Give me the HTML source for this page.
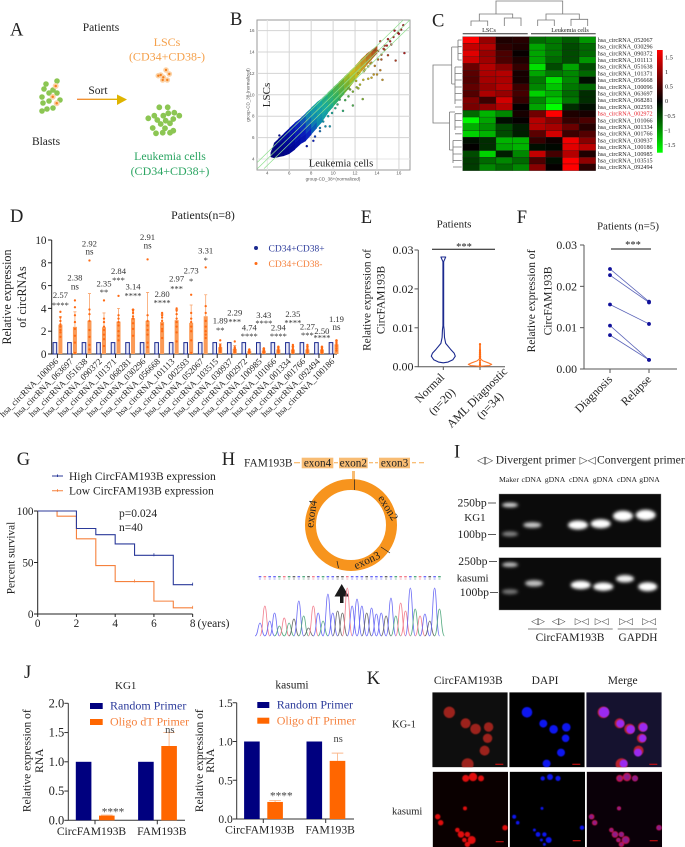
<!DOCTYPE html>
<html lang="en">
<head>
<meta charset="utf-8">
<title>CircFAM193B figure</title>
<style>
html,body{margin:0;padding:0;background:#fff;width:685px;height:847px;overflow:hidden}
svg{display:block}
text{font-family:"Liberation Serif","DejaVu Serif",serif;fill:#222}
</style>
</head>
<body>
<svg id="figure" xmlns="http://www.w3.org/2000/svg" width="685" height="847" viewBox="0 0 685 847">
<defs>
<linearGradient id="heatScale" x1="0" y1="0" x2="0" y2="1"><stop offset="0" stop-color="#ff0000"/><stop offset=".5" stop-color="#000"/><stop offset="1" stop-color="#00ff00"/></linearGradient>
<linearGradient id="sortArrow" gradientUnits="userSpaceOnUse" x1="77" y1="0" x2="118" y2="0"><stop offset="0" stop-color="#f58a3c"/><stop offset="1" stop-color="#e0b400"/></linearGradient>
<filter id="b1" x="-50%" y="-100%" width="200%" height="300%"><feGaussianBlur stdDeviation="1.6"/></filter>
<filter id="b2" x="-30%" y="-30%" width="160%" height="160%"><feGaussianBlur stdDeviation=".5"/></filter>
<clipPath id="clipK1"><rect x="0" y="0" width="75.4" height="75"/></clipPath>
<clipPath id="clipK2"><rect x="0" y="0" width="75.4" height="75.3"/></clipPath>
<g id="kg1Red"><circle cx="17" cy="20" r="5.7"/><circle cx="33.3" cy="31" r="5"/><circle cx="43.3" cy="36.7" r="5.3"/><circle cx="56.3" cy="34.7" r="4.7"/><circle cx="55.3" cy="46" r="4.7"/><circle cx="52.3" cy="58.3" r="5"/><circle cx="35.3" cy="72" r="6"/></g>
<g id="kg1Blue"><circle cx="17.7" cy="20" r="5.3"/><circle cx="34" cy="31.3" r="4"/><circle cx="44.3" cy="37" r="4.3"/><circle cx="57" cy="35" r="4.3"/><circle cx="56.3" cy="46" r="3.8"/><circle cx="51.7" cy="60.3" r="4"/><circle cx="37.3" cy="71.3" r="4"/></g>
<g id="kasRed"><circle cx="33" cy="6.7" r="3.5"/><circle cx="40.3" cy="5.3" r="4.2"/><circle cx="48.3" cy="6.7" r="3"/><circle cx="32.3" cy="36.7" r="2"/><circle cx="5" cy="45" r="2.7"/><circle cx="8" cy="51" r="2.7"/><circle cx="72.3" cy="56" r="2.7"/><circle cx="24.7" cy="58.3" r="2.3"/><circle cx="28.3" cy="62.7" r="3.3"/><circle cx="34.7" cy="62.7" r="2.7"/><circle cx="31.7" cy="68.3" r="2.3"/><circle cx="39" cy="68.3" r="4"/><circle cx="34.7" cy="72.7" r="2.7"/></g>
<g id="kasBlue"><circle cx="33" cy="6.7" r="2.2"/><circle cx="40.3" cy="5.3" r="3"/><circle cx="48.3" cy="6.7" r="2.6"/><circle cx="32.3" cy="36.7" r="1.5"/><circle cx="4.5" cy="45" r="2"/><circle cx="8" cy="51" r="1.8"/><circle cx="72.3" cy="56" r="2.2"/><circle cx="24.7" cy="58.3" r="1.5"/><circle cx="28.3" cy="62.7" r="2.4"/><circle cx="34.7" cy="62.7" r="2.2"/><circle cx="31.7" cy="68.3" r="1.5"/><circle cx="39" cy="68.3" r="3"/><circle cx="34.7" cy="72.7" r="1.5"/></g>
</defs>

<!-- Panel A -->
<g>
<text x="10" y="35.7" font-size="18.5">A</text>
<text x="101" y="31" font-size="11.5" text-anchor="middle">Patients</text>
<text x="167" y="46" font-size="12" text-anchor="middle" style="fill:#f5a04a">LSCs</text>
<text x="167" y="60.5" font-size="12" text-anchor="middle" style="fill:#f5a04a">(CD34+CD38-)</text>
<path stroke="#8cc653" stroke-width="5.6" stroke-linecap="round" fill="none" d="M57 81h0M46 84h0M44 89h0M53 90h0M49 93h0M57 93h0M42 97h0M49 101h0M43 103h0M60 100h0M53 108h0M47 109h0M42 111h0"/>
<path stroke="#fbd3a8" stroke-width="6" stroke-linecap="round" fill="none" d="M55.7 86h0M52.7 96.7h0M56.7 103.3h0"/>
<path stroke="#f58220" stroke-width="2.5" stroke-linecap="round" fill="none" d="M55.7 86h0M52.7 96.7h0M56.7 103.3h0"/>
<path stroke="#fbd3a8" stroke-width="5.6" stroke-linecap="round" fill="none" d="M166 70h0M160.7 75h0M169.3 74h0M163.3 77.3h0M158.3 75.7h0M167.3 80h0M162.7 80h0"/>
<path stroke="#f58220" stroke-width="2.4" stroke-linecap="round" fill="none" d="M166 70h0M160.7 75h0M169.3 74h0M163.3 77.3h0M158.3 75.7h0M167.3 80h0M162.7 80h0"/>
<path stroke="#8cc653" stroke-width="5.8" stroke-linecap="round" fill="none" d="M159.3 107.3h0M167.7 107.3h0M174.3 112.7h0M179.3 115.7h0M154.3 115.7h0M148.3 118.3h0M157.3 120h0M163.3 115.7h0M168.3 113.3h0M173.3 119h0M165.7 120.7h0M160.7 124h0M170 123.3h0M152.7 128h0M165 128.3h0M173.3 130.7h0M156 133.3h0M162.7 132.7h0M170 132.7h0"/>
<text x="98" y="94" font-size="11.5" text-anchor="middle">Sort</text>
<path d="M77 99.3H118" stroke="url(#sortArrow)" stroke-width="1.3" fill="none"/>
<path d="M117 94.5L127 99.5L117 105Z" fill="#dfb400"/>
<text x="46" y="145" font-size="11.5" text-anchor="middle">Blasts</text>
<text x="170" y="160" font-size="11.8" text-anchor="middle" style="fill:#2ba562">Leukemia cells</text>
<text x="170" y="175" font-size="12" text-anchor="middle" style="fill:#2ba562">(CD34+CD38+)</text>
</g>

<!-- Panel B -->
<g id="panelB">
<text x="230" y="25" font-size="18.5">B</text>
<rect x="257" y="20" width="153" height="150" fill="#fff" stroke="#999" stroke-width="1"/>
<text transform="translate(249.5,95) rotate(-90)" font-size="4.5" text-anchor="middle" style="font-family:'Liberation Sans',sans-serif;fill:#555">group-CD_38-(normalized)</text>
<text x="333" y="180.5" font-size="4.5" text-anchor="middle" style="font-family:'Liberation Sans',sans-serif;fill:#555">group-CD_38+(normalized)</text>
</g>

<!-- Panel C -->
<g id="panelC">
<text x="432" y="26.7" font-size="18.5">C</text>
<path fill="none" stroke="#777" stroke-width=".8" d="M496 14V1H562.7V14M479.3 21V14H512.7V18M471 26V21H487.7V26M504.3 26V18H521V26M546 20V14H579.3V19.3M537.7 26V20H554.3V26M571 26V19.3H587.7V26"/>
<path fill="none" stroke="#777" stroke-width=".8" d="M451.7 65H433V123H449.5M451.7 47V84M451.7 47H458M458 40V60M458 40H461.7M458 46.7H461.7M458 53.4H461.7M458 60H461.7M451.7 84H455M455 67V104M455 67H461.7M455 73.4H461.7M455 80H461.7M455 87H461.7M455 93.6H461.7M455 100H461.7M455 107H461.7M449.5 112V150M449.5 112H455M455 113.7V130M455 113.7H461.7M455 120.4H461.7M455 127H461.7M455 133.8H461.7M449.5 150H453M453 144V163M453 140.5V147H456M453 140.5H461.7M453 147H461.7M453 154H461.7M453 160.6H461.7M453 167H461.7"/>
<path d="M462.7 33.7H527.7" stroke="#333" stroke-width="1"/>
<path d="M531 33.7H595.7" stroke="#333" stroke-width="1"/>
<text x="489" y="32" font-size="6.2" text-anchor="middle">LSCs</text>
<text x="570" y="32" font-size="6.2" text-anchor="middle">Leukemia cells</text>
<rect x="657" y="50" width="5.7" height="102.7" fill="url(#heatScale)"/>
</g>

<!-- Panel D -->
<g id="panelD">
<text x="10" y="222" font-size="18.5">D</text>
<text x="203" y="219" font-size="11.8" text-anchor="middle">Patients(n=8)</text>
<text transform="translate(11,297) rotate(-90)" font-size="12.1" text-anchor="middle">Relative expression</text>
<text transform="translate(26,297) rotate(-90)" font-size="12.1" text-anchor="middle">of circRNAs</text>
<circle cx="256" cy="248" r="2" fill="#1b2a8f"/>
<text x="268.5" y="251.5" font-size="9.5" style="fill:#2b3a9a">CD34+CD38+</text>
<circle cx="256" cy="263.5" r="1.5" fill="#ff6a13"/>
<text x="268.5" y="267" font-size="9.5" style="fill:#f5813d">CD34+CD38-</text>
</g>

<!-- Panel E -->
<g id="panelE">
<text x="360.7" y="223" font-size="18.5">E</text>
<text x="454" y="227.5" font-size="11" text-anchor="middle">Patients</text>
<text transform="translate(370.5,300) rotate(-90)" font-size="11.4" text-anchor="middle">Relative expression of</text>
<text transform="translate(384.5,300) rotate(-90)" font-size="11.4" text-anchor="middle">CircFAM193B</text>
<path d="M432 249.3H495" stroke="#111" stroke-width="1"/>
<text x="464" y="250" font-size="10.5" text-anchor="middle">***</text>
<text transform="translate(445,378) rotate(-45)" font-size="11.8" text-anchor="end">Normal</text>
<text transform="translate(456,393) rotate(-45)" font-size="11.8" text-anchor="end">(n=20)</text>
<text transform="translate(508,372) rotate(-45)" font-size="11.8" text-anchor="end">AML Diagnostic</text>
<text transform="translate(504,397) rotate(-45)" font-size="11.8" text-anchor="end">(n=34)</text>
</g>

<!-- Panel F -->
<g id="panelF">
<text x="516.7" y="223" font-size="18.5">F</text>
<text x="628" y="229.5" font-size="11" text-anchor="middle">Patients (n=5)</text>
<text transform="translate(535,301) rotate(-90)" font-size="11.5" text-anchor="middle">Relative expression of</text>
<text transform="translate(551.5,301) rotate(-90)" font-size="11.5" text-anchor="middle">CircFAM193B</text>
<path d="M611 249H651" stroke="#111" stroke-width="1"/>
<text x="633" y="248" font-size="10.5" text-anchor="middle">***</text>
</g>

<!-- Panel G -->
<g id="panelG">
<text x="16.7" y="465" font-size="18.5">G</text>
<path d="M52 476H63M57.5 474.5V477" stroke="#2b3a9a" stroke-width="1" fill="none"/>
<text x="69" y="479.8" font-size="11.5">High CircFAM193B expression</text>
<path d="M52 490.7H63M57.5 489.2V491.7" stroke="#f5813d" stroke-width="1" fill="none"/>
<text x="69" y="494.5" font-size="11.5">Low CircFAM193B expression</text>
<text x="119" y="517" font-size="11.5">p=0.024</text>
<text x="119" y="531" font-size="11.5">n=40</text>
<text transform="translate(14.5,558) rotate(-90)" font-size="11.2" text-anchor="middle">Percent survival</text>
<text x="197.5" y="626.8" font-size="11.5">(years)</text>
</g>

<!-- Panel H -->
<g id="panelH">
<text x="221.7" y="465" font-size="18.5">H</text>
<text x="244" y="466.7" font-size="11.4">FAM193B</text>
<path d="M294 462.8H300M334 462.8H338M369 462.8H373M375 462.8H378M412 462.8H416M419 462.8H424" stroke="#f7a94a" stroke-width="1" fill="none"/>
<rect x="301.7" y="457.7" width="31.6" height="10.6" fill="#f8bc73"/>
<rect x="339" y="457.7" width="28.7" height="10.6" fill="#f8bc73"/>
<rect x="379" y="457.7" width="31" height="10.6" fill="#f8bc73"/>
<text x="317.5" y="466.5" font-size="11.2" text-anchor="middle">exon4</text>
<text x="353.3" y="466.5" font-size="11.2" text-anchor="middle">exon2</text>
<text x="394.5" y="466.5" font-size="11.2" text-anchor="middle">exon3</text>
<path d="M353.5 471V481" stroke="#f8bc73" stroke-width="3"/>
<circle cx="351" cy="525" r="40.5" fill="none" stroke="#f7941d" stroke-width="11"/>
<path d="M354.5 479.5V490M381 547L390 553M337 561L338.5 568" stroke="#222" stroke-width=".7" fill="none"/>
<text transform="translate(311.5,514) rotate(-82)" font-size="11.3" text-anchor="middle" dy="3.5">exon4</text>
<text transform="translate(388,508) rotate(58)" font-size="11.3" text-anchor="middle" dy="3.5">exon2</text>
<text transform="translate(367,560.5) rotate(-25)" font-size="11.3" text-anchor="middle" dy="3.5">exon3</text>
<path d="M341.7 584L349 596.5H343.5V603H340V596.5H334.5Z" fill="#1a1a1a"/>
</g>

<!-- Panel I -->
<g>
<text x="454" y="457.7" font-size="18.5">I</text>
<text x="477" y="463.5" font-size="10.5" style="font-family:'DejaVu Sans',sans-serif;fill:#444">◁▷</text>
<text x="495.7" y="463.7" font-size="11.6">Divergent primer</text>
<text x="579.5" y="463.5" font-size="10.5" style="font-family:'DejaVu Sans',sans-serif;fill:#444">▷◁</text>
<text x="597" y="463.7" font-size="11.6">Convergent primer</text>
<text x="509" y="482" font-size="7.7" text-anchor="middle">Maker</text>
<text x="531.5" y="482" font-size="7.7" text-anchor="middle">cDNA</text>
<text x="555" y="482" font-size="7.7" text-anchor="middle">gDNA</text>
<text x="579" y="482" font-size="7.7" text-anchor="middle">cDNA</text>
<text x="603" y="482" font-size="7.7" text-anchor="middle">gDNA</text>
<text x="627" y="482" font-size="7.7" text-anchor="middle">cDNA</text>
<text x="649.5" y="482" font-size="7.7" text-anchor="middle">gDNA</text>
<rect x="499" y="494" width="162" height="53.3" fill="#0b0b0b" stroke="#888" stroke-width=".4"/>
<rect x="499" y="557.7" width="162" height="52.3" fill="#0b0b0b" stroke="#888" stroke-width=".4"/>
<g fill="#fff" filter="url(#b1)">
<ellipse cx="510" cy="505" rx="8" ry="2.3" opacity=".85"/>
<ellipse cx="510" cy="534" rx="8" ry="2.5" opacity=".5"/>
<ellipse cx="532.3" cy="525" rx="9" ry="2.8" opacity=".8"/>
<ellipse cx="578" cy="525" rx="10" ry="4.5"/>
<ellipse cx="600.7" cy="523.7" rx="10" ry="4.5"/>
<ellipse cx="623" cy="516" rx="10" ry="5.2"/>
<ellipse cx="645.7" cy="515" rx="10" ry="5.2"/>
</g>
<g fill="#fff" filter="url(#b1)">
<ellipse cx="510" cy="564.7" rx="8" ry="2.3" opacity=".75"/>
<ellipse cx="510" cy="591.7" rx="8" ry="2.5" opacity=".45"/>
<ellipse cx="534" cy="583.3" rx="9" ry="3.2" opacity=".75"/>
<ellipse cx="580.7" cy="585" rx="10" ry="4.2"/>
<ellipse cx="603.3" cy="586.7" rx="10" ry="4.2"/>
<ellipse cx="625" cy="578.7" rx="9" ry="3.7" opacity=".95"/>
<ellipse cx="647.7" cy="586.7" rx="9.5" ry="4.5"/>
</g>
<text x="486.7" y="506.7" font-size="11.7" text-anchor="end">250bp</text>
<path d="M488 503H496" stroke="#333" stroke-width=".8"/>
<text x="475" y="521" font-size="11" text-anchor="middle">KG1</text>
<text x="486.7" y="538" font-size="11.7" text-anchor="end">100bp</text>
<path d="M488 534.5H496" stroke="#333" stroke-width=".8"/>
<text x="487.5" y="565" font-size="11.7" text-anchor="end">250bp</text>
<path d="M489 561.5H497" stroke="#333" stroke-width=".8"/>
<text x="472.7" y="581.5" font-size="11" text-anchor="middle">kasumi</text>
<text x="489" y="596" font-size="11.7" text-anchor="end">100bp</text>
<path d="M490 592.5H498" stroke="#333" stroke-width=".8"/>
<text x="538" y="624" font-size="9" text-anchor="middle" style="font-family:'DejaVu Sans',sans-serif;fill:#444">◁▷</text>
<text x="558.7" y="624" font-size="9" text-anchor="middle" style="font-family:'DejaVu Sans',sans-serif;fill:#444">◁▷</text>
<text x="581.7" y="624" font-size="9" text-anchor="middle" style="font-family:'DejaVu Sans',sans-serif;fill:#444">▷◁</text>
<text x="601.7" y="624" font-size="9" text-anchor="middle" style="font-family:'DejaVu Sans',sans-serif;fill:#444">▷◁</text>
<text x="626" y="624" font-size="9" text-anchor="middle" style="font-family:'DejaVu Sans',sans-serif;fill:#444">▷◁</text>
<text x="649" y="624" font-size="9" text-anchor="middle" style="font-family:'DejaVu Sans',sans-serif;fill:#444">▷◁</text>
<path d="M528 629H612.7" stroke="#555" stroke-width=".8"/>
<path d="M617.7 629H657" stroke="#555" stroke-width=".8"/>
<text x="570" y="641" font-size="11.5" text-anchor="middle">CircFAM193B</text>
<text x="638" y="641" font-size="11.3" text-anchor="middle">GAPDH</text>
</g>

<!-- Panel J -->
<g id="panelJ">
<text x="24" y="678" font-size="18.5">J</text>
<text x="125.7" y="689" font-size="11" text-anchor="middle">KG1</text>
<text transform="translate(30.5,760.7) rotate(-90)" font-size="11.5" text-anchor="middle">Relative expression of</text>
<text transform="translate(43,760.7) rotate(-90)" font-size="11.5" text-anchor="middle">RNA</text>
<rect x="90" y="703" width="12.7" height="6" fill="#00007f"/>
<text x="110" y="709.7" font-size="12" style="fill:#2b3a9a">Random Primer</text>
<rect x="90" y="719" width="12.7" height="6" fill="#ff6600"/>
<text x="110" y="725.7" font-size="12" style="fill:#f5813d">Oligo dT Primer</text>
<text x="292" y="688.5" font-size="11.5" text-anchor="middle">kasumi</text>
<text transform="translate(203,760.7) rotate(-90)" font-size="11.5" text-anchor="middle">Relative expression of</text>
<text transform="translate(214,760.7) rotate(-90)" font-size="11.5" text-anchor="middle">RNA</text>
<rect x="257.3" y="702" width="12" height="6" fill="#00007f"/>
<text x="276.7" y="708.7" font-size="12" style="fill:#2b3a9a">Random Primer</text>
<rect x="257.3" y="717.7" width="12" height="6" fill="#ff6600"/>
<text x="276.7" y="724.5" font-size="12" style="fill:#f5813d">Oligo dT Primer</text>
</g>

<!-- Panel K -->
<g>
<text x="366.7" y="684" font-size="18.5">K</text>
<text x="468.3" y="684" font-size="11.5" text-anchor="middle">CircFAM193B</text>
<text x="545" y="684" font-size="11.5" text-anchor="middle">DAPI</text>
<text x="622.7" y="684" font-size="11.5" text-anchor="middle">Merge</text>
<text x="392" y="727.7" font-size="10.5">KG-1</text>
<text x="392" y="814.7" font-size="10.5">kasumi</text>

<g transform="translate(432.3,692.3)" clip-path="url(#clipK1)">
<rect width="75.4" height="75" fill="#0e0e0e"/>
<use href="#kg1Red" fill="#9c221e" filter="url(#b2)"/>
<path d="M63 72H71" stroke="#e01010" stroke-width="1"/>
</g>
<g transform="translate(509.3,692.3)" clip-path="url(#clipK1)">
<rect width="75.4" height="75" fill="#000"/>
<use href="#kg1Blue" fill="#0a14f0" filter="url(#b2)"/>
<path d="M63 72H71" stroke="#e01010" stroke-width="1"/>
</g>
<g transform="translate(586.3,692.3)" clip-path="url(#clipK1)">
<rect width="75.4" height="75" fill="#15122f"/>
<use href="#kg1Red" fill="#b8242c" filter="url(#b2)"/>
<use href="#kg1Blue" fill="#9a2cf0" filter="url(#b2)"/>
<path d="M63 72H71" stroke="#e01010" stroke-width="1"/>
</g>
<g transform="translate(432.7,771.7)" clip-path="url(#clipK2)">
<rect width="75.4" height="75.3" fill="#0a0000"/>
<use href="#kasRed" fill="#e01010" filter="url(#b2)"/>
<path d="M63 70H71" stroke="#e01010" stroke-width="1"/>
</g>
<g transform="translate(509.7,771.7)" clip-path="url(#clipK2)">
<rect width="75.4" height="75.3" fill="#000"/>
<use href="#kasBlue" fill="#0a14f0" filter="url(#b2)"/>
<path d="M63 69H71" stroke="#e01010" stroke-width="1"/>
</g>
<g transform="translate(586.7,771.7)" clip-path="url(#clipK2)">
<rect width="75.4" height="75.3" fill="#0a0008"/>
<use href="#kasRed" fill="#c81848" filter="url(#b2)"/>
<use href="#kasBlue" fill="#8c1c8c" filter="url(#b2)"/>
<path d="M63 69H71" stroke="#e01010" stroke-width="1"/>
</g>
</g>
</svg>

<script>
/* ---------- Panel B data ---------- */
const scatterTicks=[4,6,8,10,12,14,16];
const bandX=[4.3,4.6,5,5.5,6,6.5,7,7.5,8,8.5,9,9.5,10,10.5,11,11.5,12,12.5,13,13.5,14];
const bandUpper=[4.6,5.5,5.9,6.4,6.9,7.4,7.8,8.3,8.8,9.3,9.7,10.2,10.7,11.2,11.7,12.2,12.7,13.3,13.8,14.2,14.6];
const bandLower=[4.2,4.1,4.2,4.3,4.5,4.9,5.4,5.7,6.3,6.9,7.5,8.3,8.9,9.5,10.1,10.7,11.4,12.1,12.7,13.3,13.9];
const outlierX=[16.5,15.7,14.5,12.7,11.8,10.9,9.7,9.3,8.2,7.6,5.1,15,14.4,13.8,14.3,13.7,13.2,12.3,11.8,11.1,15.3,15.9,15.6,16.4,15,14.3,13.8,14.7,15.2,15.5,16,16.2,14.9,14.1,14.6,13.4,12.8,12.1,11.4,10.4,9.9,8.8,12.3,12.9,13.5,13.2,14.1,14.4,14.7,13.5,14,12.75,12.45,12.15,11.55,11.4,10.6,10.2,9.55,9.1,8.8,8.35];
const outlierY=[13.9,13.2,11.4,9.6,9,8.5,7.05,7.05,5.7,5.2,6.2,13.7,13.3,12.7,12.3,11.9,11.5,10.6,10.3,9.5,14.7,15.8,16,16.5,15.2,15,14.2,14.6,15,15.4,15.7,16.1,14.6,14.1,14.3,12.9,12.2,11.3,10.6,9.1,8.3,6.6,12,12.35,13,12.65,13.3,13.75,14.2,11.6,11.9,11.4,10.95,10.7,10.5,9.85,9.55,8.75,8,7.5,6.9,6.1];

/* ---------- Panel C data ---------- */
const heatRowLabels=['hsa_circRNA_052067','hsa_circRNA_030296','hsa_circRNA_090372','hsa_circRNA_101113','hsa_circRNA_051638','hsa_circRNA_101371','hsa_circRNA_056668','hsa_circRNA_100096','hsa_circRNA_063697','hsa_circRNA_068281','hsa_circRNA_002593','hsa_circRNA_002972','hsa_circRNA_101066','hsa_circRNA_001334','hsa_circRNA_001766','hsa_circRNA_030937','hsa_circRNA_100186','hsa_circRNA_100985','hsa_circRNA_103515','hsa_circRNA_092494'];
const heatValues=[
[1.7,1.0,0.2,0.25,-0.7,-0.8,-0.6,-1.0],
[1.3,1.2,0.3,0.2,-1.1,-0.8,-0.5,-0.7],
[1.5,1.0,0.5,0.05,-1.1,-0.8,-0.5,-0.7],
[1.35,1.05,0.5,0.2,-1.1,-0.7,-0.5,-1.0],
[0.7,1.2,0.9,0.35,-1.5,-0.5,-1.1,-0.5],
[0.6,1.15,1.2,0.15,-1.1,-0.8,-0.9,-0.7],
[0.55,1.1,1.15,0.15,-0.8,-1.5,-0.9,-0.1],
[0.65,1.0,1.2,0.4,-0.9,-1.3,-0.8,-0.7],
[0.55,1.15,1.0,0.45,-1.4,-1.15,-0.7,-0.3],
[0.85,0.4,1.4,0.35,-0.9,-1.35,-0.8,-0.3],
[0.8,0.95,1.2,0.03,-1.1,-1.7,-0.3,-0.1],
[-0.7,-1.2,-0.9,0.15,0.75,1.7,0.2,0.15],
[-1.65,-1.1,-0.1,0.03,1.2,0.9,0.35,0.5],
[-1.15,-0.95,-0.5,-0.2,1.2,1.1,0.7,0.25],
[-1.4,-1.2,-0.5,-0.2,0.6,1.4,0.4,0.55],
[-0.1,-0.3,-1.2,-1.2,0.35,0.1,1.6,0.9],
[0.02,-0.3,-1.1,-1.2,-0.1,-0.05,1.5,1.25],
[-0.5,-1.4,-0.2,-0.9,1.3,0.45,1.2,0.2],
[-0.4,-0.7,-0.9,-0.7,0.5,-0.1,1.7,0.95],
[-0.4,-0.9,-0.7,-0.9,0.9,0.03,1.7,0.3]];
const scaleTicks=[1.5,1,0.5,0,-0.5,-1,-1.5];

/* ---------- Panel D data ---------- */
const dCategories=['hsa_circRNA_100096','hsa_circRNA_063697','hsa_circRNA_051638','hsa_circRNA_090372','hsa_circRNA_101371','hsa_circRNA_068281','hsa_circRNA_030296','hsa_circRNA_056668','hsa_circRNA_101113','hsa_circRNA_002593','hsa_circRNA_052067','hsa_circRNA_103515','hsa_circRNA_030937','hsa_circRNA_002972','hsa_circRNA_100985','hsa_circRNA_101066','hsa_circRNA_001334','hsa_circRNA_001766','hsa_circRNA_092494','hsa_circRNA_100186'];
const dTicks=[0,2,4,6,8,10];
const dBlueValues=[1,1,1,1,1,1,1,1,1,1,1,1,1,1,1,1,1,1,1,1];
const dOrangeMeans=[2.57,2.38,2.92,2.35,2.84,3.14,2.91,2.8,2.97,2.73,3.31,0.6,0.45,0.25,0.3,0.4,0.4,0.4,0.4,0.85];
const dOrangeUpper=[3.3,3.7,5.3,3.6,4.0,3.9,5.4,3.5,3.9,4.3,5.2,0.9,0.75,0.35,0.45,0.6,0.65,0.65,0.6,1.2];
const dOrangeDots=[
[3.7,3.2,2.9,2.6,2.4,2.1,1.9,1.5],[4.7,4.1,3.4,2.8,2.2,1.6,1.0,0.1],[8.2,3.9,3.5,2.9,2.1,1.5,0.8,0.4],[4.7,3.1,2.8,2.4,2.1,1.7,1.3,0.7],
[5.1,3.4,3.1,2.8,2.5,2.0,1.6,1.2],[3.9,3.8,3.6,3.3,3.1,2.7,2.2,1.6],[8.3,3.4,2.9,2.5,2.1,1.7,1.0,0.6],[3.6,3.4,3.2,2.9,2.6,2.2,2.0,1.4],
[4.0,3.8,3.5,3.1,2.8,2.4,1.9,1.1],[5.2,3.6,3.1,2.8,2.4,2.0,1.2,0.1],[7.6,4.2,3.6,2.9,2.4,2.0,1.7,1.4],[1.2,0.8,0.7,0.6,0.5,0.4,0.3,0.2],
[1.1,0.6,0.5,0.45,0.4,0.3,0.2,0.15],[0.4,0.35,0.3,0.25,0.2,0.15,0.1,0.05],[0.5,0.45,0.4,0.35,0.3,0.2,0.15,0.1],[0.65,0.6,0.5,0.4,0.3,0.25,0.2,0.1],
[0.8,0.7,0.6,0.45,0.35,0.3,0.2,0.1],[0.8,0.7,0.55,0.45,0.4,0.3,0.2,0.1],[0.65,0.6,0.5,0.4,0.35,0.3,0.2,0.1],[1.2,1.1,1.0,0.9,0.8,0.7,0.5,0.3]];
const dFoldLabels=['2.57','2.38','2.92','2.35','2.84','3.14','2.91','2.80','2.97','2.73','3.31','1.89','2.29','4.74','3.43','2.94','2.35','2.27','2.50','1.19'];
const dSigLabels=['****','ns','ns','**','***','****','ns','****','***','*','*','**','***','****','****','****','****','***','****','ns'];
const dFoldLevels=[5.18,6.7,9.71,6.2,7.28,5.91,10.26,5.26,6.61,7.34,9.06,2.92,3.65,2.34,3.42,2.31,3.51,2.4,2.02,3.07];
const dSigLevels=[4.36,5.91,8.98,5.53,6.58,5.18,9.53,4.59,5.82,6.49,8.3,2.16,2.92,1.67,2.78,1.64,2.84,1.73,1.52,2.37];

/* ---------- Panel E data ---------- */
const eTicks=[0,0.01,0.02,0.03];
const eTickLabels=['0.00','0.01','0.02','0.03'];
const normalLevels=[0.0282,0.027,0.0105,0.0095,0.0075,0.006,0.0045,0.0035,0.0027,0.0018,0.0012,0.001];
const normalDensity=[0.2,0.03,0.03,0.07,0.1,0.2,0.6,0.9,1,0.8,0.4,0];
const amlLevels=[0.0058,0.002,0.0015,0.001,0.0006,0.0003,0.0001];
const amlDensity=[0.03,0.05,0.25,0.7,1,0.8,0];
const amlPoints=[0.0058,0.0042,0.0037,0.0032,0.0026,0.0021,0.0015,0.001,0.0006,0.0004];

/* ---------- Panel F data ---------- */
const fCategories=['Diagnosis','Relapse'];
const fDiagnosis=[0.0242,0.0227,0.0156,0.0105,0.0082];
const fRelapse=[0.0163,0.0161,0.0109,0.0022,0.0022];
const fTicks=[0,0.01,0.02,0.03];
const fTickLabels=['0.00','0.01','0.02','0.03'];

/* ---------- Panel G data ---------- */
const survivalTimes=[0,1,2,3,4,5,6,7,8];
const survivalHigh=[100,100,83,77,68,57,57,28.5,28.5];
const survivalLow=[100,95,73,47,31.5,31.5,12.5,6,6];
const gYTicks=[0,50,100];
const gXTicks=[0,2,4,6,8];
const censorHighTimes=[6,8];
const censorHighValues=[57,28.5];
const censorLowTimes=[5,8];
const censorLowValues=[31.5,6];

/* ---------- Panel H data ---------- */
const traceChannels='brbbgrgkbgkrbgbbkkrbbbkbbbkbgrrbgrbkbg';
const traceHeights=[13,30,15,23,10,18,13,17,35,20,8,30,23,15,42,23,25,23,48,30,37,30,23,28,22,23,20,38,20,33,25,48,27,20,22,15,48,27];

/* ---------- Panel J data ---------- */
const jCategories=['CircFAM193B','FAM193B'];
const jKg1Random=[1,1];
const jKg1Oligo=[0.08,1.27];
const jKg1OligoUpper=[0.09,1.5];
const jKg1Ticks=[0,0.5,1,1.5,2];
const jKasRandom=[1,1];
const jKasOligo=[0.22,0.75];
const jKasOligoUpper=[0.24,0.85];
const jKasTicks=[0,0.5,1,1.5];
const jSigLabels=['****','ns'];

/* ---------- helpers ---------- */
const NS='http://www.w3.org/2000/svg';
function add(parent,tag,attrs,txt){
  const e=document.createElementNS(NS,tag);
  for(const k in attrs){e.setAttribute(k,attrs[k]);}
  if(txt!==undefined){e.textContent=txt;}
  parent.appendChild(e);
  return e;
}
function hex2(n){const s=Math.max(0,Math.min(255,Math.round(n))).toString(16);return s.length<2?'0'+s:s;}
function mix(a,b,t){
  const pa=[1,3,5].map(i=>parseInt(a.substr(i,2),16));
  const pb=[1,3,5].map(i=>parseInt(b.substr(i,2),16));
  return '#'+pa.map((v,i)=>hex2(v+(pb[i]-v)*t)).join('');
}
function scatterColor(m){
  const at=[4.3,6,7,8,9,10,11,12,13,14,15,16.5];
  const col=['#00006e','#0008a0','#0a20c0','#0c88b0','#14a8a0','#30b060','#70b030','#c8c020','#c09020','#b05020','#b02020','#a01010'];
  if(m<=at[0]){return col[0];}
  for(let i=1;i<at.length;i++){if(m<=at[i]){return mix(col[i-1],col[i],(m-at[i-1])/(at[i]-at[i-1]));}}
  return col[col.length-1];
}

/* ---------- Panel B ---------- */
const xB=v=>267.3+10.97*(v-4);
const yB=v=>159-10.7*(v-4);
const gB=document.getElementById('panelB');
scatterTicks.forEach(t=>{
  const g=add(gB,'path',{d:`M${xB(t)} 20V170M257 ${yB(t)}H410`,stroke:t===4?'#e4e4e4':'#d4d4d4','stroke-width':1,fill:'none'});
  
  
  const tx=add(gB,'text',{x:xB(t),y:174.5,'font-size':4.5,'text-anchor':'middle',style:"font-family:'Liberation Sans',sans-serif;fill:#555"},String(t));
  
  
  const ty=add(gB,'text',{x:254.5,y:yB(t)+1.5,'font-size':4.5,'text-anchor':'end',style:"font-family:'Liberation Sans',sans-serif;fill:#555"},String(t));
  
  
});
for(let i=0;i<bandX.length-1;i++){
  for(let k=0;k<4;k++){
    const a0=bandLower[i]+(bandUpper[i]-bandLower[i])*k/4;
    const a1=bandLower[i]+(bandUpper[i]-bandLower[i])*(k+1)/4;
    const b0=bandLower[i+1]+(bandUpper[i+1]-bandLower[i+1])*k/4;
    const b1=bandLower[i+1]+(bandUpper[i+1]-bandLower[i+1])*(k+1)/4;
    const pts=[[bandX[i],a0-0.02],[bandX[i+1]+0.03,b0-0.02],[bandX[i+1]+0.03,b1],[bandX[i],a1]];
    const meanLevel=(bandX[i]+bandX[i+1])/2*0.5+(a0+a1+b0+b1)/4*0.5;
    const s=add(gB,'polygon',{points:pts.map(p=>xB(p[0])+','+yB(p[1])).join(' '),fill:scatterColor(meanLevel)});
    
    
  }
}
outlierX.forEach((x,i)=>{
  const d=add(gB,'circle',{cx:xB(x),cy:yB(outlierY[i]),r:1.1,fill:scatterColor((x+outlierY[i])/2),stroke:'#333','stroke-width':.2});
  
  
});
[0.6,0,-0.6].forEach(off=>{
  const x1=Math.max(3.1,3.1-off);
  const x2=Math.min(17,17-off);
  const l=add(gB,'line',{x1:xB(x1),y1:yB(x1+off),x2:xB(x2),y2:yB(x2+off),stroke:'#8fe08f','stroke-width':.7});
  
  
});
const lscB=add(gB,'text',{transform:'translate(270,95) rotate(-90)','font-size':11,'text-anchor':'middle'},'LSCs');


const leuB=add(gB,'text',{x:341,y:166.7,'font-size':10.6,'text-anchor':'middle'},'Leukemia cells');



/* ---------- Panel C ---------- */
const gC=document.getElementById('panelC');
const xC=c=>462.7+16.625*c;
const yC=r=>36.7+6.7*r;
function heatColor(v){
  const t=Math.min(1,Math.abs(v)/1.7);
  return v>=0?'#'+hex2(255*t)+'0000':'#00'+hex2(255*t)+'00';
}
heatValues.forEach((row,r)=>{
  row.forEach((v,c)=>{
    const cell=add(gC,'rect',{x:xC(c),y:yC(r),width:16.625,height:6.7,fill:heatColor(v),stroke:'#111','stroke-width':.25});
    
    
  });
  const lab=add(gC,'text',{x:597.7,y:yC(r)+5.2,'font-size':6.15,style:heatRowLabels[r]==='hsa_circRNA_002972'?'fill:#e8202a':''},heatRowLabels[r]);
  
  
});
scaleTicks.forEach(t=>{
  const y=101-29.2*t;
  const lab=add(gC,'text',{x:t<0?664:665,y:y+2.2,'font-size':6.3},(t<0?'\u2212':'')+Math.abs(t));
  
  
});

/* ---------- Panel D ---------- */
const gD=document.getElementById('panelD');
const xD=i=>57.4+14.53*i;
const yD=v=>354-11.4*v;
const axD=add(gD,'path',{d:'M51.7 '+yD(10)+'V'+yD(0)+'H337',stroke:'#222','stroke-width':1,fill:'none'});


dTicks.forEach(t=>{
  const m=add(gD,'path',{d:`M48 ${yD(t)}H51.7`,stroke:'#222','stroke-width':1});
  
  
  const l=add(gD,'text',{x:46.5,y:yD(t)+4,'font-size':11.2,'text-anchor':'end'},String(t));
  
  
});
dCategories.forEach((cat,i)=>{
  const x=xD(i);
  const tick=add(gD,'path',{d:`M${x} 354V358`,stroke:'#222','stroke-width':1});
  
  
  const lab=add(gD,'text',{transform:`translate(${x+1.5},362) rotate(-45)`,'font-size':8.8,'text-anchor':'end'},cat);
  
  
  const bar=add(gD,'rect',{x:x-4.3,y:yD(dBlueValues[i]),width:3.6,height:354-yD(dBlueValues[i]),fill:'#e8eaf8',stroke:'#1b2a8f','stroke-width':1});
  
  
  const ob=add(gD,'rect',{x:x+1,y:yD(dOrangeMeans[i]),width:4,height:354-yD(dOrangeMeans[i]),fill:'#fb9a55'});
  
  
  const err=add(gD,'path',{d:`M${x+3} ${yD(dOrangeMeans[i])}V${yD(dOrangeUpper[i])}M${x+1.5} ${yD(dOrangeUpper[i])}H${x+4.5}`,stroke:'#f9a36a','stroke-width':.8,fill:'none'});
  
  
  dOrangeDots[i].forEach(v=>{
    const d=add(gD,'circle',{cx:x+3,cy:yD(v),r:1.15,fill:'#ff6a13'});
    
    
  });
  const f=add(gD,'text',{x:x+3,y:yD(dFoldLevels[i])+3,'font-size':8.6,'text-anchor':'middle',style:'fill:#333'},dFoldLabels[i]);
  
  
  const s=add(gD,'text',{x:x+3,y:yD(dSigLevels[i])+(dSigLabels[i]==='ns'?3:3.8),'font-size':dSigLabels[i]==='ns'?9:8.5,'text-anchor':'middle',style:'fill:#333'},dSigLabels[i]);
  
  
});

/* ---------- Panel E ---------- */
const gE=document.getElementById('panelE');
const yE=v=>366.7-3890*v;
const xE=[443.3,480];
const axE=add(gE,'path',{d:`M418.3 ${yE(0.03)}V${yE(0)}H505M443.3 ${yE(0)}V370M480 ${yE(0)}V370`,stroke:'#555','stroke-width':1,fill:'none'});


eTicks.forEach((t,i)=>{
  const m=add(gE,'path',{d:`M414.5 ${yE(t)}H418.3`,stroke:'#555','stroke-width':1});
  
  
  const l=add(gE,'text',{x:413.5,y:yE(t)+4,'font-size':12,'text-anchor':'end'},eTickLabels[i]);
  
  
});
function violinPath(cx,levels,density,halfWidth){
  const r=levels.map((v,i)=>`${cx+density[i]*halfWidth},${yE(v)}`);
  const l=levels.map((v,i)=>`${cx-density[i]*halfWidth},${yE(v)}`).reverse();
  return 'M'+r.concat(l).join('L')+'Z';
}
const vN=add(gE,'path',{d:violinPath(xE[0],normalLevels,normalDensity,12),fill:'#fff',stroke:'#1b2a8f','stroke-width':1.1,'stroke-linejoin':'round'});


const vA=add(gE,'path',{d:violinPath(xE[1],amlLevels,amlDensity,11.7),fill:'#fff',stroke:'#ff7a2d','stroke-width':1.1,'stroke-linejoin':'round'});


amlPoints.forEach(v=>{
  const d=add(gE,'circle',{cx:xE[1],cy:yE(v),r:1.1,fill:'#ff6a13'});
  
  
});

/* ---------- Panel F ---------- */
const gF=document.getElementById('panelF');
const yF=v=>369-4133*v;
const xF=i=>610+39*i;
const axF=add(gF,'path',{d:`M584 ${yF(0.03)}V${yF(0)}H677`,stroke:'#555','stroke-width':1,fill:'none'});


fTicks.forEach((t,i)=>{
  const m=add(gF,'path',{d:`M580 ${yF(t)}H584`,stroke:'#555','stroke-width':1});
  
  
  const l=add(gF,'text',{x:577,y:yF(t)+4,'font-size':11.8,'text-anchor':'end'},fTickLabels[i]);
  
  
});
fCategories.forEach((c,i)=>{
  const m=add(gF,'path',{d:`M${xF(i)} 369V373`,stroke:'#555','stroke-width':1});
  
  
  const l=add(gF,'text',{transform:`translate(${xF(i)+3},380) rotate(-45)`,'font-size':11.8,'text-anchor':'end'},c);
  
  
});
fDiagnosis.forEach((v,i)=>{
  const line=add(gF,'line',{x1:xF(0),y1:yF(v),x2:xF(1),y2:yF(fRelapse[i]),stroke:'#5a63b8','stroke-width':.8});
  
  
  const a=add(gF,'circle',{cx:xF(0),cy:yF(v),r:1.9,fill:'#10109a'});
  
  
  const b=add(gF,'circle',{cx:xF(1),cy:yF(fRelapse[i]),r:1.9,fill:'#10109a'});
  
  
});

/* ---------- Panel G ---------- */
const gG=document.getElementById('panelG');
const xG=t=>37.7+19.37*t;
const yG=p=>614-1.03*p;
function stepPath(times,vals){
  let d=`M${xG(times[0])} ${yG(vals[0])}`;
  for(let i=1;i<times.length;i++){d+=`H${xG(times[i])}V${yG(vals[i])}`;}
  return d;
}
const axG=add(gG,'path',{d:`M${xG(0)} ${yG(100)}V${yG(0)}H${xG(8)}`,stroke:'#222','stroke-width':1,fill:'none'});


gYTicks.forEach(t=>{
  const m=add(gG,'path',{d:`M34 ${yG(t)}H${xG(0)}`,stroke:'#222','stroke-width':1});
  
  
  const l=add(gG,'text',{x:33.5,y:yG(t)+3.8,'font-size':11.2,'text-anchor':'end'},String(t));
  
  
});
gXTicks.forEach(t=>{
  const m=add(gG,'path',{d:`M${xG(t)} 614V617`,stroke:'#222','stroke-width':1});
  
  
  const l=add(gG,'text',{x:xG(t),y:626.8,'font-size':11.2,'text-anchor':'middle'},String(t));
  
  
});
const lowCurve=add(gG,'path',{d:stepPath(survivalTimes,survivalLow),stroke:'#f5813d','stroke-width':1.1,fill:'none'});


const highCurve=add(gG,'path',{d:stepPath(survivalTimes,survivalHigh),stroke:'#2b3a9a','stroke-width':1.1,fill:'none'});


censorHighTimes.forEach((t,i)=>{
  const c=add(gG,'path',{d:`M${xG(t)} ${yG(censorHighValues[i])-2}v3`,stroke:'#2b3a9a','stroke-width':.8});
  
  
});
censorLowTimes.forEach((t,i)=>{
  const c=add(gG,'path',{d:`M${xG(t)} ${yG(censorLowValues[i])-2}v3`,stroke:'#f5813d','stroke-width':.8});
  
  
});

/* ---------- Panel H trace ---------- */
const gH=document.getElementById('panelH');
const traceColor={b:'#6a6af5',r:'#f27c8c',g:'#55aa80',k:'#666'};
const xH=i=>260+4.85*i;
const yH=h=>636-h;
traceHeights.forEach((h,i)=>{
  const c=traceColor[traceChannels[i]];
  const x=xH(i);
  const p=add(gH,'path',{d:`M${x-5} 636C${x-2} 636 ${x-2} ${yH(h)} ${x} ${yH(h)}C${x+2} ${yH(h)} ${x+2} 636 ${x+5} 636`,stroke:c,'stroke-width':.8,fill:'none'});
  
  
  const base=add(gH,'rect',{x:x-1.3,y:576,width:2.6,height:1.4,fill:c});
  
  
  const base2=add(gH,'rect',{x:x-1,y:578.5,width:2,height:1,fill:c,opacity:.6});
  
  
});

/* ---------- Panel J ---------- */
const gJ=document.getElementById('panelJ');
const yJ1=v=>820.3-58.5*v;
const xJ1=i=>95+62.3*i;
const yJ2=v=>819-77.5*v;
const xJ2=i=>263.3+62.4*i;
function drawBarPanel(xf,yf,x0,x1,ticks,random,oligo,upper,sigVals,tickFont){
  const ax=add(gJ,'path',{d:`M${x0} ${yf(ticks[ticks.length-1])}V${yf(0)}H${x1}`,stroke:'#333','stroke-width':1,fill:'none'});
  
  
  ticks.forEach(t=>{
    const m=add(gJ,'path',{d:`M${x0-4} ${yf(t)}H${x0}`,stroke:'#333','stroke-width':1});
    
    
    const l=add(gJ,'text',{x:x0-4,y:yf(t)+4,'font-size':tickFont,'text-anchor':'end'},t.toFixed(1));
    
    
  });
  jCategories.forEach((c,i)=>{
    const x=xf(i);
    const tk=add(gJ,'path',{d:`M${x} ${yf(0)}v4`,stroke:'#333','stroke-width':1});
    
    
    const l=add(gJ,'text',{x:x-(i===0?3.5:-4.5),y:yf(0)+14.5,'font-size':11.6,'text-anchor':'middle'},c);
    
    
    const r=add(gJ,'rect',{x:x-19.2,y:yf(random[i]),width:15.6,height:yf(0)-yf(random[i]),fill:'#00007f'});
    
    
    const e=add(gJ,'path',{d:`M${x+11.8} ${yf(oligo[i])}V${yf(upper[i])}M${x+6} ${yf(upper[i])}H${x+17.6}`,stroke:'#fbb98d','stroke-width':.9,fill:'none'});
    
    
    const o=add(gJ,'rect',{x:x+4,y:yf(oligo[i]),width:15.6,height:yf(0)-yf(oligo[i]),fill:'#ff6600'});
    
    
    const s=add(gJ,'text',{x:i===0?x+18:x+12.5,y:yf(sigVals[i])+(i===0?4.5:3),'font-size':jSigLabels[i]==='ns'?10.5:11.3,'text-anchor':'middle',style:'fill:#444'},jSigLabels[i]);
    
    
  });
}
drawBarPanel(xJ1,yJ1,68.3,185,jKg1Ticks,jKg1Random,jKg1Oligo,jKg1OligoUpper,[0.16,1.54],12.5);
drawBarPanel(xJ2,yJ2,236.7,354,jKasTicks,jKasRandom,jKasOligo,jKasOligoUpper,[0.31,1.03],11.5);
</script>
</body>
</html>
